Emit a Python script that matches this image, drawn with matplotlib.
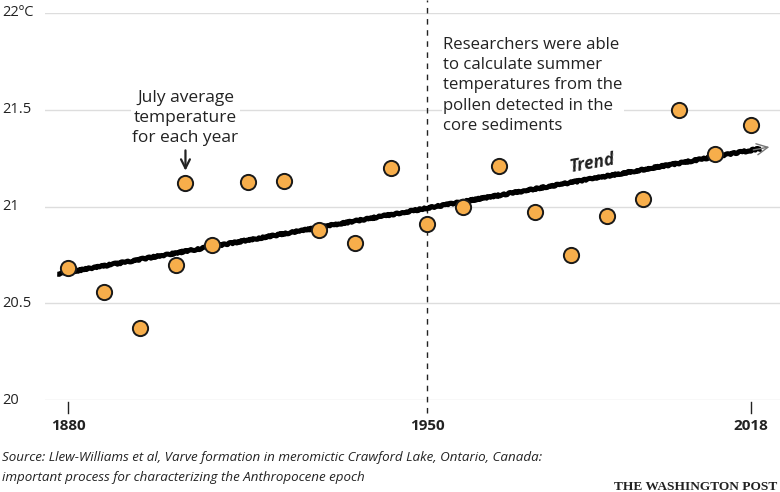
import matplotlib.pyplot as plt
import matplotlib.transforms as mtransforms

# sample position along the core (0 = 1880, 10 = 1950, 19 = 2018)
pos = [0, 1, 2, 3, 3.27, 4, 5, 6, 7, 8, 9, 10, 11, 12, 13, 14, 15, 16, 17, 18, 19]
# July average temperature (deg C)
temp = [20.68, 20.56, 20.37, 20.70, 21.12, 20.80, 21.125, 21.13, 20.88, 20.81,
        21.20, 20.91, 21.00, 21.21, 20.97, 20.75, 20.95, 21.04, 21.50, 21.27, 21.42]
tick_pos = [0, 10, 19]
tick_labels = ['1880', '1950', '2018']
y_ticks = [20, 20.5, 21, 21.5, 22]
y_labels = ['20', '20.5', '21', '21.5', '22ºC']
trend_x = [-0.3, 19.3]
trend_y = [20.65, 21.30]

plt.rcParams['font.family'] = ['Open Sans', 'DejaVu Sans']
ink = '#222222'

fig = plt.figure(figsize=(7.8, 4.92), dpi=100)
ax = fig.add_axes([45 / 780, 92 / 492, 735 / 780, 387 / 492])
ax.set_xlim(-0.64, 19.82)
ax.set_ylim(20, 22)
ax.axis('off')
xa = mtransforms.blended_transform_factory(ax.transData, ax.transAxes)

# gridlines + y labels
for v, lab in zip(y_ticks, y_labels):
    ax.axhline(v, color='#dddddd', lw=1, zorder=0)
    tr = mtransforms.blended_transform_factory(fig.transFigure, ax.transData)
    ax.text(2 / 780, v, lab, transform=tr, ha='left', va='center',
            fontsize=10.5, color=ink)

# x ticks
for p, lab in zip(tick_pos, tick_labels):
    if lab != '1950':
        ax.plot([p, p], [-0.005, -0.034], color=ink, lw=1, clip_on=False, transform=xa)
    ax.text(p, -0.066, lab, ha='center', va='center', fontsize=11,
            fontweight='bold', color=ink, transform=xa)

# 1950 dashed line
ax.plot([10, 10], [-0.034, 1.034], color=ink, lw=1, ls=(0, (4, 4)), clip_on=False,
        transform=xa)

# trend
ln, = ax.plot(trend_x, trend_y, color='black', lw=3.6, solid_capstyle='butt', zorder=2)
ln.set_sketch_params(scale=0.8, length=6, randomness=4)
ax.annotate('', xy=(19.6, trend_y[1] + 0.01), xytext=(19.0, trend_y[1] - 0.01),
            arrowprops=dict(arrowstyle='->', color='#777777', lw=1, mutation_scale=20))
ax.text(14.6, 21.225, 'Trend', fontsize=12.5, fontweight='bold', fontstyle='italic',
        rotation=10, ha='center', va='center', color=ink)

# points
ax.scatter(pos, temp, s=120, color='#f7ae4b', edgecolor='#1a1a1a', lw=1.4, zorder=3)

# annotations
ax.text(3.27, 21.458, 'July average\ntemperature\nfor each year', ha='center',
        va='center', fontsize=12.5, color=ink, linespacing=1.35,
        bbox=dict(facecolor='white', edgecolor='none', pad=1))
ax.annotate('', xy=(3.27, 21.185), xytext=(3.27, 21.29),
            arrowprops=dict(arrowstyle='->', color=ink, lw=1.6, mutation_scale=16,
                            shrinkA=0, shrinkB=0))
ax.text(10.45, 21.626, 'Researchers were able\nto calculate summer\ntemperatures from the\n'
        'pollen detected in the\ncore sediments', ha='left', va='center',
        fontsize=12.1, color=ink, linespacing=1.35,
        bbox=dict(facecolor='white', edgecolor='none', pad=1))

# footer
fig.text(2 / 780, 1 - 458 / 492, 'Source: Llew-Williams et al, Varve formation in meromictic '
         'Crawford Lake, Ontario, Canada:', fontsize=9.6, fontstyle='italic',
         color=ink, va='center', ha='left')
fig.text(2 / 780, 1 - 478 / 492, 'important process for characterizing the Anthropocene epoch',
         fontsize=9.6, fontstyle='italic', color=ink, va='center', ha='left')
fig.text(777 / 780, 1 - 487 / 492, 'THE WASHINGTON POST', fontsize=9.6,
         fontweight='bold', family='Liberation Serif', color=ink, va='center', ha='right')

fig.savefig('out.png', dpi=100)
